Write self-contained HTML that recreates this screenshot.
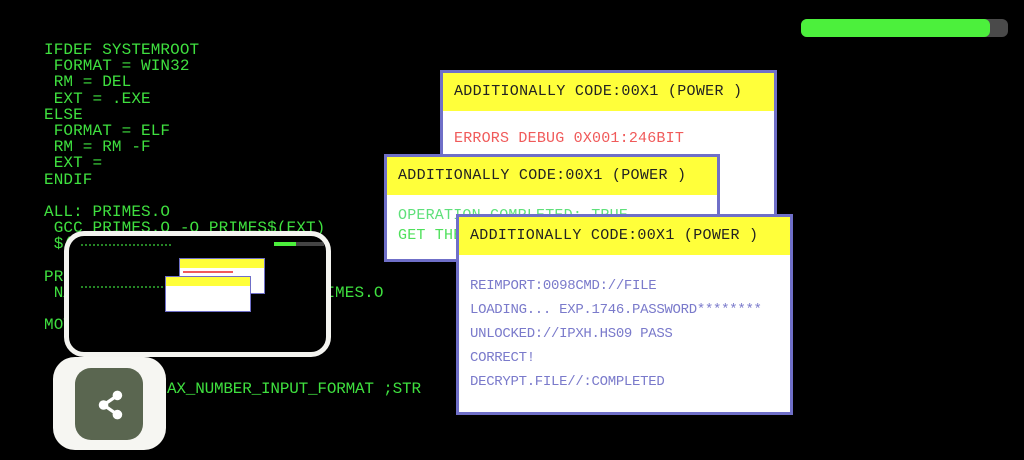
<!DOCTYPE html>
<html><head><meta charset="utf-8"><style>
body{margin:0;width:1024px;height:460px;background:#000;overflow:hidden;position:relative;font-family:"Liberation Mono",monospace}
.c{position:absolute;color:#3fe03f;font-size:16px;line-height:16px;white-space:pre;letter-spacing:0.1px}
.w{position:absolute;background:#fff;border:3px solid #6f6fc8;box-sizing:border-box}
.h{background:#ffff3a;height:38px;line-height:38px;padding-left:11px;font-size:15px;color:#222;white-space:pre;letter-spacing:0.3px}
.t{position:absolute;font-size:15px;white-space:pre;letter-spacing:0.2px}
</style></head><body>
<div class="c" style="left:44px;top:42px;line-height:16.2px">IFDEF SYSTEMROOT
 FORMAT = WIN32
 RM = DEL
 EXT = .EXE
ELSE
 FORMAT = ELF
 RM = RM -F
 EXT =
ENDIF

ALL: PRIMES.O
 GCC PRIMES.O -O PRIMES$(EXT)
 $(RM) PRIMES.O

PRIMES.O: PRIMES.C
 NASM -F ELF PRIMES.ASM -O PRIMES.O

MOV</div>
<div class="c" style="left:167px;top:381px;letter-spacing:-0.2px">AX_NUMBER_INPUT_FORMAT ;STR</div>

<div style="position:absolute;left:801px;top:19px;width:207px;height:18px;background:#4a4a4a;border-radius:6px"></div>
<div style="position:absolute;left:801px;top:19px;width:189px;height:18px;background:#4cf03c;border-radius:6px"></div>

<div class="w" style="left:440px;top:70px;width:337px;height:160px">
<div class="h">ADDITIONALLY CODE:00X1 (POWER )</div>
<div class="t" style="left:11px;top:57px;color:#f05a5a">ERRORS DEBUG 0X001:246BIT</div>
</div>
<div class="w" style="left:384px;top:154px;width:336px;height:108px">
<div class="h">ADDITIONALLY CODE:00X1 (POWER )</div>
<div class="t" style="left:11px;top:50px;color:#5ee07a">OPERATION COMPLETED: TRUE</div>
<div class="t" style="left:11px;top:70px;color:#4ee05a">GET THE FILE</div>
</div>
<div class="w" style="left:456px;top:214px;width:337px;height:201px">
<div class="h">ADDITIONALLY CODE:00X1 (POWER )</div>
<div class="t" style="left:11px;top:57px;color:#7a7acb;line-height:24px;font-size:14px;letter-spacing:-0.3px">REIMPORT:0098CMD://FILE
LOADING... EXP.1746.PASSWORD********
UNLOCKED://IPXH.HS09 PASS
CORRECT!
DECRYPT.FILE//:COMPLETED</div>
</div>

<div style="position:absolute;left:64px;top:231px;width:267px;height:126px;border:5px solid #f4f4f0;border-radius:20px;box-sizing:border-box;background:#000;overflow:hidden">
<div style="position:absolute;left:205px;top:6px;width:50px;height:4px;background:#444"></div>
<div style="position:absolute;left:205px;top:6px;width:22px;height:4px;background:#4cf03c"></div>
<div style="position:absolute;left:12px;top:8px;width:90px;height:40px;border-top:2px dotted #3fe03f;border-bottom:2px dotted #3fe03f;opacity:.6"></div>
<div style="position:absolute;left:110px;top:22px;width:84px;height:34px;background:#fff;border:1px solid #6f6fc8"><div style="height:9px;background:#ffff3a"></div><div style="margin:3px;height:2px;width:50px;background:#f05a5a"></div></div>
<div style="position:absolute;left:96px;top:40px;width:84px;height:34px;background:#fff;border:1px solid #6f6fc8"><div style="height:9px;background:#ffff3a"></div></div>
</div>

<div style="position:absolute;left:53px;top:357px;width:113px;height:93px;background:#f6f6f2;border-radius:22px"></div>
<div style="position:absolute;left:75px;top:368px;width:68px;height:72px;background:#5a6650;border-radius:16px"></div>
<svg style="position:absolute;left:95px;top:389px" width="32" height="32" viewBox="0 0 30 30">
<line x1="21" y1="6" x2="8" y2="15" stroke="#fff" stroke-width="3"/><line x1="8" y1="15" x2="21" y2="24" stroke="#fff" stroke-width="3"/>
<circle cx="21" cy="6" r="4.5" fill="#fff"/><circle cx="8" cy="15" r="4.5" fill="#fff"/><circle cx="21" cy="24" r="4.5" fill="#fff"/></svg>
</body></html>
